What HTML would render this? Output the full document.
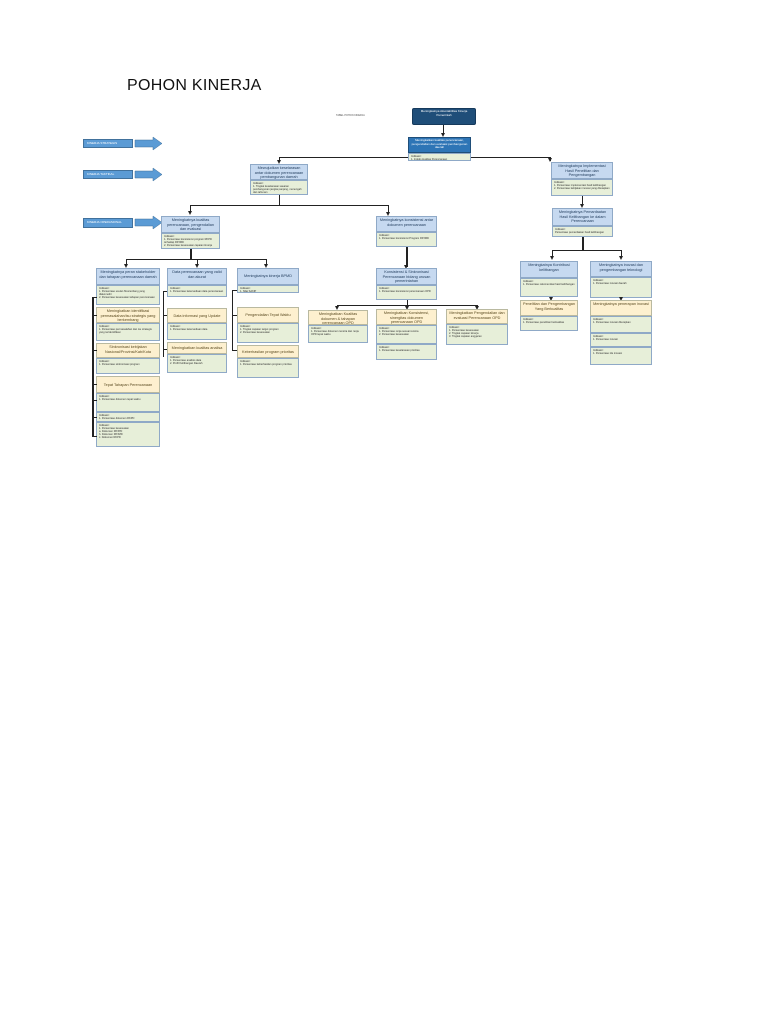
<!DOCTYPE html><html><head><meta charset="utf-8"><style>
body{margin:0;width:768px;height:1024px;background:#fff;position:relative;overflow:hidden;font-family:"Liberation Sans",sans-serif}
.b{position:absolute;box-sizing:border-box;border:1px solid #8fa9c7;background:#e7efd9;font-size:2.6px;line-height:3px;color:#333;padding:1px 2px;overflow:hidden}
.h{position:absolute;box-sizing:border-box;border:1px solid #8fa9c7;background:#c6d9f0;font-size:3.8px;line-height:4.5px;color:#1f3a5a;text-align:center;padding:1px 2px;overflow:hidden}
.y{background:#fdf0cf;border-color:#b9b9a0;color:#5a4a20}
.l{position:absolute;background:#222}
.a{position:absolute;width:0;height:0;border-left:2.5px solid transparent;border-right:2.5px solid transparent;border-top:4px solid #222}
.s{position:absolute;background:#5b9bd5;border:1px solid #41719c;color:#fff;font-size:3px;line-height:7px;padding-left:3px;box-sizing:border-box}
</style></head><body>
<div style="position:absolute;left:127px;top:77px;font-size:16px;color:#111;letter-spacing:.3px">POHON KINERJA</div>
<div style="position:absolute;left:336px;top:114px;font-size:2.5px;color:#555">TABEL POHON KINERJA</div>

<div class="s" style="left:83px;top:139px;width:50px;height:9px">KINERJA STRATEGIS</div>
<div class="s" style="left:83px;top:170px;width:50px;height:9px">KINERJA TAKTIKAL</div>
<div class="s" style="left:83px;top:218px;width:50px;height:10px">KINERJA OPERASIONAL</div>
<svg style="position:absolute;left:0;top:0" width="768" height="1024">
<g fill="#5b9bd5" stroke="#41719c" stroke-width=".5">
<polygon points="135,140 153,140 153,137 162,143.5 153,150 153,147 135,147"/>
<polygon points="135,171 153,171 153,168 162,174.5 153,181 153,178 135,178"/>
<polygon points="135,219 153,219 153,216 162,222.5 153,229 153,226 135,226"/>
</g></svg>

<!-- top -->
<div class="h" style="left:412px;top:108px;width:64px;height:17px;background:#1f4e79;color:#fff;border-color:#163a5c;border-radius:2px;font-size:3px;line-height:3.6px">Meningkatnya Akuntabilitas Kinerja Pemerintah</div>
<div class="l" style="left:443px;top:125px;width:1px;height:10px"></div><div class="a" style="left:441px;top:133px"></div>
<div class="h" style="left:408px;top:137px;width:63px;height:16px;background:#2e75b6;color:#fff;border-color:#1f4e79;font-size:3px;line-height:3.6px">Meningkatkan kualitas perencanaan, pengendalian dan evaluasi pembangunan daerah</div>
<div class="b" style="left:408px;top:153px;width:63px;height:8px">Indikator:<br>1. Indeks kualitas Perencanaan</div>

<div class="l" style="left:279px;top:157px;width:129px;height:1px"></div>
<div class="l" style="left:471px;top:157px;width:80px;height:1px"></div>
<div class="l" style="left:279px;top:157px;width:1px;height:5px"></div><div class="a" style="left:277px;top:160px"></div>
<div class="l" style="left:550px;top:157px;width:1px;height:4px"></div><div class="a" style="left:548px;top:158px"></div>

<div class="h" style="left:250px;top:164px;width:58px;height:16px">Mewujudkan keselarasan antar dokumen perencanaan pembangunan daerah</div>
<div class="b" style="left:250px;top:180px;width:58px;height:15px">Indikator:<br>1. Tingkat keselarasan sasaran pembangunan jangka panjang, menengah dan tahunan</div>
<div class="h" style="left:551px;top:162px;width:62px;height:17px">Meningkatnya Implementasi Hasil Penelitian dan Pengembangan</div>
<div class="b" style="left:551px;top:179px;width:62px;height:17px">Indikator:<br>1. Persentase implementasi hasil kelitbangan<br>2. Persentase kebijakan inovasi yang ditetapkan</div>

<div class="l" style="left:279px;top:195px;width:1px;height:11px"></div>
<div class="l" style="left:190px;top:205px;width:199px;height:1px"></div>
<div class="l" style="left:190px;top:205px;width:1px;height:8px"></div><div class="a" style="left:188px;top:211px"></div>
<div class="l" style="left:388px;top:205px;width:1px;height:9px"></div><div class="a" style="left:386px;top:212px"></div>
<div class="l" style="left:582px;top:196px;width:1px;height:9px"></div><div class="a" style="left:580px;top:204px"></div>

<div class="h" style="left:161px;top:216px;width:59px;height:17px">Meningkatnya kualitas perencanaan, pengendalian dan evaluasi</div>
<div class="b" style="left:161px;top:233px;width:59px;height:16px">Indikator:<br>1. Persentase konsistensi program RKPD terhadap RPJMD<br>2. Persentase kesesuaian capaian kinerja</div>
<div class="h" style="left:376px;top:216px;width:61px;height:16px">Meningkatnya konsistensi antar dokumen perencanaan</div>
<div class="b" style="left:376px;top:232px;width:61px;height:15px">Indikator:<br>1. Persentase konsistensi Program RPJMD</div>
<div class="h" style="left:552px;top:208px;width:61px;height:18px">Meningkatnya Pemanfaatan Hasil Kelitbangan ke dalam Perencanaan</div>
<div class="b" style="left:552px;top:226px;width:61px;height:11px">Indikator:<br>Persentase pemanfaatan hasil kelitbangan</div>

<!-- col A connectors -->
<div class="l" style="left:190px;top:249px;width:2px;height:11px"></div>
<div class="l" style="left:126px;top:259px;width:140px;height:1px"></div>
<div class="l" style="left:126px;top:259px;width:1px;height:6px"></div><div class="a" style="left:124px;top:264px"></div>
<div class="l" style="left:197px;top:259px;width:1px;height:6px"></div><div class="a" style="left:195px;top:264px"></div>
<div class="l" style="left:266px;top:259px;width:1px;height:6px"></div><div class="a" style="left:264px;top:264px"></div>

<div class="h" style="left:96px;top:268px;width:64px;height:17px">Meningkatnya peran stakeholder dan tahapan perencanaan daerah</div>
<div class="b" style="left:96px;top:285px;width:64px;height:20px">Indikator:<br>1. Persentase usulan Musrenbang yang diakomodir<br>2. Persentase kesesuaian tahapan perencanaan</div>
<div class="h y" style="left:96px;top:307px;width:64px;height:16px">Meningkatkan identifikasi permasalahan/isu strategis yang berkembang</div>
<div class="b" style="left:96px;top:323px;width:64px;height:18px">Indikator:<br>1. Persentase permasalahan dan isu strategis yang teridentifikasi</div>
<div class="h y" style="left:96px;top:343px;width:64px;height:15px">Sinkronisasi kebijakan Nasional/Provinsi/Kab/Kota</div>
<div class="b" style="left:96px;top:358px;width:64px;height:16px">Indikator:<br>1. Persentase sinkronisasi program</div>
<div class="h y" style="left:96px;top:376px;width:64px;height:17px;line-height:15px">Tepat Tahapan Perencanaan</div>
<div class="b" style="left:96px;top:393px;width:64px;height:19px">Indikator:<br>1. Persentase dokumen tepat waktu</div>
<div class="b" style="left:96px;top:412px;width:64px;height:10px">Indikator:<br>1. Persentase dokumen RKPD</div>
<div class="b" style="left:96px;top:422px;width:64px;height:25px">Indikator:<br>1. Persentase kesesuaian<br>a. Dokumen RPJPD<br>b. Dokumen RPJMD<br>c. Dokumen RKPD</div>
<div class="l" style="left:92px;top:297px;width:2px;height:140px"></div>
<div class="l" style="left:94px;top:297px;width:3px;height:1px"></div>
<div class="l" style="left:94px;top:315px;width:3px;height:1px"></div>
<div class="l" style="left:94px;top:350px;width:3px;height:1px"></div>
<div class="l" style="left:94px;top:384px;width:3px;height:1px"></div>
<div class="l" style="left:94px;top:400px;width:3px;height:1px"></div>
<div class="l" style="left:94px;top:417px;width:3px;height:1px"></div>
<div class="l" style="left:94px;top:436px;width:3px;height:1px"></div>

<div class="h" style="left:167px;top:268px;width:60px;height:17px">Data perencanaan yang valid dan akurat</div>
<div class="b" style="left:167px;top:285px;width:60px;height:12px">Indikator:<br>1. Persentase ketersediaan data perencanaan</div>
<div class="h y" style="left:167px;top:308px;width:60px;height:15px;line-height:12px">Data informasi yang Update</div>
<div class="b" style="left:167px;top:323px;width:60px;height:17px">Indikator:<br>1. Persentase ketersediaan data</div>
<div class="h y" style="left:167px;top:342px;width:60px;height:12px;line-height:9px">Meningkatkan kualitas analisa data</div>
<div class="b" style="left:167px;top:354px;width:60px;height:19px">Indikator:<br>1. Persentase analisis data<br>2. Profil Kelitbangan Daerah</div>
<div class="l" style="left:163px;top:291px;width:1px;height:66px"></div>
<div class="l" style="left:163px;top:291px;width:4px;height:1px"></div>
<div class="l" style="left:163px;top:315px;width:4px;height:1px"></div>
<div class="l" style="left:163px;top:349px;width:4px;height:1px"></div>

<div class="h" style="left:237px;top:268px;width:62px;height:17px;line-height:13px">Meningkatnya kinerja BPMD</div>
<div class="b" style="left:237px;top:285px;width:62px;height:8px">Indikator:<br>1. Nilai SAKIP</div>
<div class="h y" style="left:237px;top:307px;width:62px;height:16px;line-height:12px">Pengendalian Tepat Waktu</div>
<div class="b" style="left:237px;top:323px;width:62px;height:20px">Indikator:<br>1. Tingkat capaian target program<br>2. Persentase kesesuaian</div>
<div class="h y" style="left:237px;top:345px;width:62px;height:13px;line-height:10px">Keberhasilan program prioritas</div>
<div class="b" style="left:237px;top:358px;width:62px;height:20px">Indikator:<br>1. Persentase keberhasilan program prioritas</div>
<div class="l" style="left:232px;top:290px;width:1px;height:60px"></div>
<div class="l" style="left:232px;top:290px;width:5px;height:1px"></div>
<div class="l" style="left:232px;top:315px;width:5px;height:1px"></div>
<div class="l" style="left:232px;top:350px;width:5px;height:1px"></div>

<!-- col B -->
<div class="l" style="left:406px;top:247px;width:2px;height:20px"></div><div class="a" style="left:404px;top:265px"></div>
<div class="h" style="left:376px;top:268px;width:61px;height:17px">Konsistensi &amp; Sinkronisasi Perencanaan bidang urusan pemerintahan</div>
<div class="b" style="left:376px;top:285px;width:61px;height:15px">Indikator:<br>1. Persentase konsistensi perencanaan OPD</div>
<div class="l" style="left:407px;top:300px;width:1px;height:6px"></div>
<div class="l" style="left:337px;top:305px;width:141px;height:1px"></div>
<div class="l" style="left:337px;top:305px;width:1px;height:3px"></div><div class="a" style="left:335px;top:306px"></div>
<div class="l" style="left:407px;top:305px;width:1px;height:3px"></div><div class="a" style="left:405px;top:306px"></div>
<div class="l" style="left:477px;top:305px;width:1px;height:3px"></div><div class="a" style="left:475px;top:306px"></div>

<div class="h y" style="left:308px;top:310px;width:60px;height:15px">Meningkatkan Kualitas dokumen &amp; tahapan perencanaan OPD</div>
<div class="b" style="left:308px;top:325px;width:60px;height:18px">Indikator:<br>1. Persentase dokumen renstra dan renja OPD tepat waktu</div>
<div class="h y" style="left:376px;top:309px;width:61px;height:16px">Meningkatkan Konsistensi, sinergitas dokumen perencanaan OPD</div>
<div class="b" style="left:376px;top:325px;width:61px;height:19px">Indikator:<br>1. Persentase renja sesuai renstra<br>2. Persentase kesesuaian</div>
<div class="b" style="left:376px;top:344px;width:61px;height:16px">Indikator:<br>1. Persentase keselarasan prioritas</div>
<div class="h y" style="left:446px;top:309px;width:62px;height:15px">Meningkatkan Pengendalian dan evaluasi Perencanaan OPD</div>
<div class="b" style="left:446px;top:324px;width:62px;height:21px">Indikator:<br>1. Persentase kesesuaian<br>2. Tingkat capaian kinerja<br>3. Tingkat capaian anggaran</div>

<!-- col C -->
<div class="l" style="left:582px;top:237px;width:2px;height:14px"></div>
<div class="l" style="left:552px;top:250px;width:70px;height:1px"></div>
<div class="l" style="left:552px;top:250px;width:1px;height:7px"></div><div class="a" style="left:550px;top:256px"></div>
<div class="l" style="left:621px;top:250px;width:1px;height:7px"></div><div class="a" style="left:619px;top:256px"></div>
<div class="h" style="left:520px;top:261px;width:58px;height:17px">Meningkatnya Kontribusi kelitbangan</div>
<div class="b" style="left:520px;top:278px;width:58px;height:19px">Indikator:<br>1. Persentase rekomendasi hasil kelitbangan</div>
<div class="h" style="left:590px;top:261px;width:62px;height:16px">Meningkatnya inovasi dan pengembangan teknologi</div>
<div class="b" style="left:590px;top:277px;width:62px;height:21px">Indikator:<br>1. Persentase inovasi daerah</div>
<div class="l" style="left:551px;top:297px;width:1px;height:1px"></div>
<div class="a" style="left:549px;top:297px"></div>
<div class="a" style="left:619px;top:297px"></div>
<div class="h y" style="left:520px;top:300px;width:58px;height:16px">Penelitian dan Pengembangan Yang Berkualitas</div>
<div class="b" style="left:520px;top:316px;width:58px;height:15px">Indikator:<br>1. Persentase penelitian berkualitas</div>
<div class="h y" style="left:590px;top:300px;width:62px;height:16px">Meningkatnya penerapan inovasi</div>
<div class="b" style="left:590px;top:316px;width:62px;height:17px">Indikator:<br>1. Persentase inovasi diterapkan</div>
<div class="b" style="left:590px;top:333px;width:62px;height:14px">Indikator:<br>1. Persentase inovasi</div>
<div class="b" style="left:590px;top:347px;width:62px;height:18px">Indikator:<br>1. Persentase ide inovasi</div>
</body></html>
